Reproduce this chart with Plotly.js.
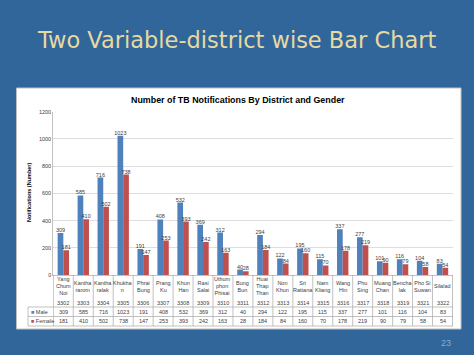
<!DOCTYPE html>
<html>
<head>
<meta charset="utf-8">
<script src="https://cdn.plot.ly/plotly-3.0.1.min.js"></script>
<style>html,body{margin:0;padding:0;background:#31669B;}#chart{width:474px;height:355px;}</style>
</head>
<body>
<div id="chart"></div>
<script>
const districtNames = ["Yang<br>Chum<br>Noi","Kantha<br>rarom","Kantha<br>ralak","Khukha<br>n","Phrai<br>Bung","Prang<br>Ku","Khun<br>Han","Rasi<br>Salai","Uthum<br>phon<br>Phisai","Bung<br>Bun","Huai<br>Thap<br>Than","Non<br>Khun","Sri<br>Rattana","Nam<br>Kliang","Wang<br>Hin","Phu<br>Sing","Muang<br>Chan","Bencha<br>lak","Pho Si<br>Suwan","Silalad"];
const districtCodes = ["3302","3303","3304","3305","3306","3307","3308","3309","3310","3311","3312","3313","3314","3315","3316","3317","3318","3319","3321","3322"];
const maleCounts = [309,585,716,1023,191,408,532,369,312,40,294,122,195,115,337,277,101,116,104,83];
const femaleCounts = [181,410,502,738,147,253,393,242,163,28,184,84,160,70,178,219,90,79,58,54];
const yTicks = [0,200,400,600,800,1000,1200];

const W = 474, H = 355;
const px = v => v / W;
const py = v => 1 - v / H;

const MALE_COLOR = '#4F81BD', FEMALE_COLOR = '#C0504D';
const tableFont = {family: 'Liberation Sans, Arial, sans-serif', size: 5.5, color: '#404040'};
const labelFont = {family: 'Liberation Sans, Arial, sans-serif', size: 5.5, color: '#404040'};

const traces = [
  {type: 'bar', name: 'Male', x: districtCodes, y: maleCounts, marker: {color: MALE_COLOR},
   text: maleCounts.map(String), textposition: 'outside', textfont: labelFont, constraintext: 'none',
   cliponaxis: false, hoverinfo: 'x+y'},
  {type: 'bar', name: 'Female', x: districtCodes, y: femaleCounts, marker: {color: FEMALE_COLOR},
   text: femaleCounts.map(String), textposition: 'outside', textfont: labelFont, constraintext: 'none',
   cliponaxis: false, hoverinfo: 'x+y'}
];

const shapes = [
  {type: 'rect', xref: 'paper', yref: 'paper', x0: px(16.5), x1: px(461), y0: py(329), y1: py(88),
   fillcolor: '#FFFFFF', line: {color: '#BFBFBF', width: 1}, layer: 'below'}
];
const gridColor = '#A6A6A6';
const n = districtCodes.length;
for (let i = 0; i <= n; i++) {
  shapes.push({type: 'line', xref: 'x', yref: 'paper', x0: i - 0.5, x1: i - 0.5, y0: py(275), y1: py(326),
    line: {color: gridColor, width: 0.7}});
}
[307, 316.5, 326].forEach(yy => shapes.push({type: 'line', xref: 'paper', yref: 'paper',
  x0: px(28), x1: px(453), y0: py(yy), y1: py(yy), line: {color: gridColor, width: 0.7}}));
shapes.push({type: 'line', xref: 'paper', yref: 'paper', x0: px(28), x1: px(28), y0: py(307), y1: py(326),
  line: {color: gridColor, width: 0.7}});

const annotations = [
  {text: 'Two Variable-district wise Bar Chart', xref: 'paper', yref: 'paper', x: px(236), y: py(40),
   showarrow: false, xanchor: 'center', yanchor: 'middle',
   font: {family: 'DejaVu Sans, sans-serif', size: 22.5, color: '#E6D9A2'}},
  {text: '<b>Number of TB Notifications By District and Gender</b>', xref: 'paper', yref: 'paper',
   x: px(238), y: py(100), showarrow: false, xanchor: 'center', yanchor: 'middle',
   font: {family: 'Liberation Sans, Arial, sans-serif', size: 8.9, color: '#000000'}},
  {text: '<b>Notifications (Number)</b>', xref: 'paper', yref: 'paper', x: px(29), y: py(193),
   textangle: -90, showarrow: false, xanchor: 'center', yanchor: 'middle',
   font: {family: 'Liberation Sans, Arial, sans-serif', size: 5.5, color: '#000000'}},
  {text: '<span style="color:' + MALE_COLOR + '">■</span> Male', xref: 'paper', yref: 'paper',
   x: px(29), y: py(312), showarrow: false, xanchor: 'left', yanchor: 'middle', font: tableFont},
  {text: '<span style="color:' + FEMALE_COLOR + '">■</span> Female', xref: 'paper', yref: 'paper',
   x: px(29), y: py(321.3), showarrow: false, xanchor: 'left', yanchor: 'middle', font: tableFont},
  {text: '23', xref: 'paper', yref: 'paper', x: px(446), y: py(343), showarrow: false,
   xanchor: 'center', yanchor: 'middle', font: {family: 'Liberation Sans, Arial, sans-serif', size: 9, color: '#8EA9C9'}}
];
for (let i = 0; i < n; i++) {
  annotations.push({text: districtNames[i], xref: 'x', yref: 'paper', x: i, y: py(286), showarrow: false,
    xanchor: 'center', yanchor: 'middle', font: tableFont});
  annotations.push({text: districtCodes[i], xref: 'x', yref: 'paper', x: i, y: py(302.5), showarrow: false,
    xanchor: 'center', yanchor: 'middle', font: tableFont});
  annotations.push({text: String(maleCounts[i]), xref: 'x', yref: 'paper', x: i, y: py(312), showarrow: false,
    xanchor: 'center', yanchor: 'middle', font: tableFont});
  annotations.push({text: String(femaleCounts[i]), xref: 'x', yref: 'paper', x: i, y: py(321.3), showarrow: false,
    xanchor: 'center', yanchor: 'middle', font: tableFont});
}

const layout = {
  width: W, height: H,
  margin: {l: 0, r: 0, t: 0, b: 0},
  paper_bgcolor: '#31669B',
  plot_bgcolor: '#FFFFFF',
  showlegend: false,
  barmode: 'group', bargap: 0.43, bargroupgap: 0,
  xaxis: {type: 'category', domain: [px(53), px(453)], showticklabels: false, showgrid: false,
    showline: true, linecolor: gridColor, linewidth: 0.7, ticks: '', fixedrange: true},
  yaxis: {domain: [py(275), py(111.7)], range: [0, 1200], tickvals: yTicks, ticktext: yTicks.map(String),
    showgrid: true, gridcolor: '#D0D0D0', gridwidth: 0.7, showline: true, linecolor: gridColor, linewidth: 0.7,
    zeroline: false, ticks: '', tickfont: tableFont, fixedrange: true, automargin: false},
  shapes: shapes,
  annotations: annotations
};

Plotly.newPlot('chart', traces, layout, {displayModeBar: false, staticPlot: true});
</script>
</body>
</html>
